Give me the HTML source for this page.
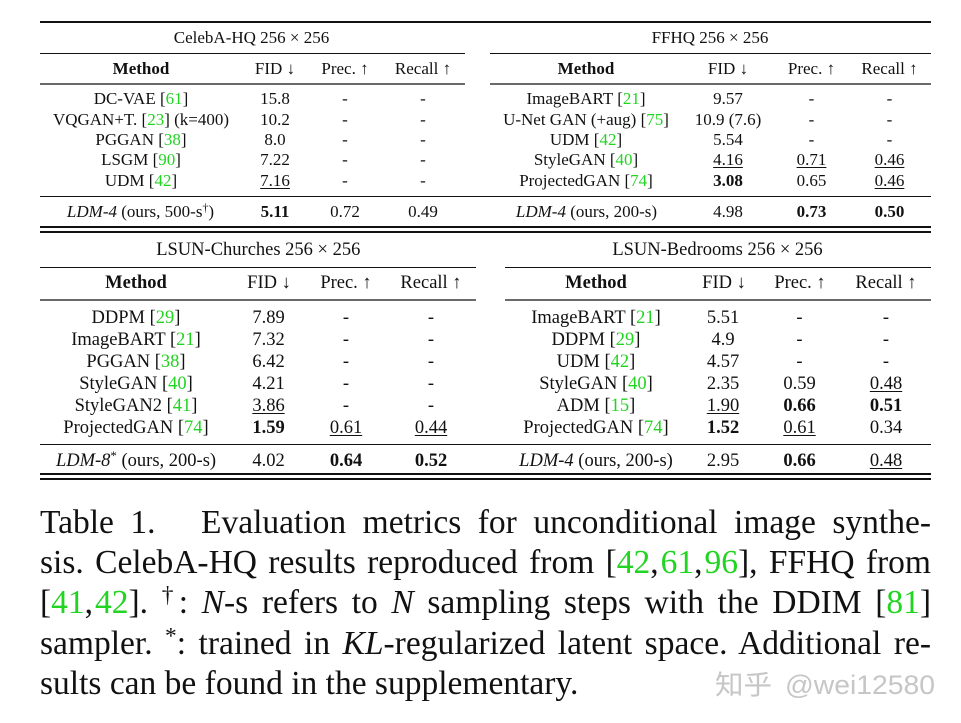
<!DOCTYPE html>
<html>
<head>
<meta charset="utf-8">
<style>
html,body{margin:0;padding:0;background:#fff;}
#c{position:relative;width:961px;height:723px;overflow:hidden;font-family:"Liberation Serif","Times New Roman",serif;color:#111;background:#fff;}
.r{position:absolute;background:#111;}
.row{position:absolute;left:0;width:961px;}
.row>span{position:absolute;top:0;white-space:nowrap;transform:translateX(-50%);}
.s{font-size:17px;line-height:20px;height:20px;}
.l{font-size:18.5px;line-height:22px;height:22px;}
.g{color:#22d422;}
.gm{margin-left:2px;}
u{text-decoration:underline;text-decoration-thickness:1px;text-underline-offset:2px;}
sup{font-size:0.7em;line-height:0;vertical-align:0.45em;}
.cap{position:absolute;left:40px;top:502.9px;width:891px;font-size:33.5px;line-height:40.3px;}
.cap div{height:40.3px;white-space:nowrap;}
.cap .j{text-align:justify;text-align-last:justify;white-space:normal;}
</style>
</head>
<body>
<div id="c">
<!-- rules -->
<div class="r" style="left:40px;top:21px;width:891px;height:2px;"></div>
<div class="r" style="left:40px;top:53px;width:425px;height:1px;"></div>
<div class="r" style="left:490px;top:53px;width:441px;height:1px;"></div>
<div class="r" style="left:40px;top:83px;width:425px;height:2px;background:#6a6a6a;"></div>
<div class="r" style="left:490px;top:83px;width:441px;height:2px;background:#6a6a6a;"></div>
<div class="r" style="left:40px;top:196px;width:891px;height:1px;"></div>
<div class="r" style="left:40px;top:226px;width:891px;height:2px;"></div>
<div class="r" style="left:40px;top:231px;width:891px;height:2px;"></div>
<div class="r" style="left:40px;top:267px;width:436px;height:1px;"></div>
<div class="r" style="left:505px;top:267px;width:426px;height:1px;"></div>
<div class="r" style="left:40px;top:299px;width:436px;height:2px;background:#6a6a6a;"></div>
<div class="r" style="left:505px;top:299px;width:426px;height:2px;background:#6a6a6a;"></div>
<div class="r" style="left:40px;top:444px;width:891px;height:1px;"></div>
<div class="r" style="left:40px;top:473px;width:891px;height:2px;"></div>
<div class="r" style="left:40px;top:478px;width:891px;height:2px;"></div>

<!-- top tables -->
<div class="row s" style="top:28px">
<span style="left:251.5px">CelebA-HQ 256 × 256</span>
<span style="left:710px">FFHQ 256 × 256</span>
</div>
<div class="row s" style="top:59px">
<span style="left:141px"><b>Method</b></span>
<span style="left:275px">FID ↓</span>
<span style="left:345px">Prec. ↑</span>
<span style="left:423px">Recall ↑</span>
<span style="left:586px"><b>Method</b></span>
<span style="left:728px">FID ↓</span>
<span style="left:811.5px">Prec. ↑</span>
<span style="left:889.5px">Recall ↑</span>
</div>
<div class="row s" style="top:89.2px">
<span style="left:141px">DC-VAE [<span class="g">61</span>]</span>
<span style="left:275px">15.8</span>
<span style="left:345px">-</span>
<span style="left:423px">-</span>
<span style="left:586px">ImageBART [<span class="g">21</span>]</span>
<span style="left:728px">9.57</span>
<span style="left:811.5px">-</span>
<span style="left:889.5px">-</span>
</div>
<div class="row s" style="top:109.55px">
<span style="left:141px">VQGAN+T. [<span class="g">23</span>] (k=400)</span>
<span style="left:275px">10.2</span>
<span style="left:345px">-</span>
<span style="left:423px">-</span>
<span style="left:586px">U-Net GAN (+aug) [<span class="g">75</span>]</span>
<span style="left:728px">10.9 (7.6)</span>
<span style="left:811.5px">-</span>
<span style="left:889.5px">-</span>
</div>
<div class="row s" style="top:129.9px">
<span style="left:141px">PGGAN [<span class="g">38</span>]</span>
<span style="left:275px">8.0</span>
<span style="left:345px">-</span>
<span style="left:423px">-</span>
<span style="left:586px">UDM [<span class="g">42</span>]</span>
<span style="left:728px">5.54</span>
<span style="left:811.5px">-</span>
<span style="left:889.5px">-</span>
</div>
<div class="row s" style="top:150.25px">
<span style="left:141px">LSGM [<span class="g">90</span>]</span>
<span style="left:275px">7.22</span>
<span style="left:345px">-</span>
<span style="left:423px">-</span>
<span style="left:586px">StyleGAN [<span class="g">40</span>]</span>
<span style="left:728px"><u>4.16</u></span>
<span style="left:811.5px"><u>0.71</u></span>
<span style="left:889.5px"><u>0.46</u></span>
</div>
<div class="row s" style="top:170.6px">
<span style="left:141px">UDM [<span class="g">42</span>]</span>
<span style="left:275px"><u>7.16</u></span>
<span style="left:345px">-</span>
<span style="left:423px">-</span>
<span style="left:586px">ProjectedGAN [<span class="g">74</span>]</span>
<span style="left:728px"><b>3.08</b></span>
<span style="left:811.5px">0.65</span>
<span style="left:889.5px"><u>0.46</u></span>
</div>
<div class="row s" style="top:201.5px">
<span style="left:140.5px"><i>LDM-4</i> (ours, 500-s<sup>†</sup>)</span>
<span style="left:275px"><b>5.11</b></span>
<span style="left:345px">0.72</span>
<span style="left:423px">0.49</span>
<span style="left:586.5px"><i>LDM-4</i> (ours, 200-s)</span>
<span style="left:728px">4.98</span>
<span style="left:811.5px"><b>0.73</b></span>
<span style="left:889.5px"><b>0.50</b></span>
</div>

<!-- bottom tables -->
<div class="row l" style="top:239px">
<span style="left:258.3px">LSUN-Churches 256 × 256</span>
<span style="left:717.5px">LSUN-Bedrooms 256 × 256</span>
</div>
<div class="row l" style="top:272px">
<span style="left:136px"><b>Method</b></span>
<span style="left:269px">FID ↓</span>
<span style="left:346px">Prec. ↑</span>
<span style="left:431px">Recall ↑</span>
<span style="left:596px"><b>Method</b></span>
<span style="left:724px">FID ↓</span>
<span style="left:800px">Prec. ↑</span>
<span style="left:886px">Recall ↑</span>
</div>
<div class="row l" style="top:306.8px">
<span style="left:136px">DDPM [<span class="g">29</span>]</span>
<span style="left:268.5px">7.89</span>
<span style="left:346px">-</span>
<span style="left:431px">-</span>
<span style="left:596px">ImageBART [<span class="g">21</span>]</span>
<span style="left:723px">5.51</span>
<span style="left:799.5px">-</span>
<span style="left:886px">-</span>
</div>
<div class="row l" style="top:328.9px">
<span style="left:136px">ImageBART [<span class="g">21</span>]</span>
<span style="left:268.5px">7.32</span>
<span style="left:346px">-</span>
<span style="left:431px">-</span>
<span style="left:596px">DDPM [<span class="g">29</span>]</span>
<span style="left:723px">4.9</span>
<span style="left:799.5px">-</span>
<span style="left:886px">-</span>
</div>
<div class="row l" style="top:351px">
<span style="left:136px">PGGAN [<span class="g">38</span>]</span>
<span style="left:268.5px">6.42</span>
<span style="left:346px">-</span>
<span style="left:431px">-</span>
<span style="left:596px">UDM [<span class="g">42</span>]</span>
<span style="left:723px">4.57</span>
<span style="left:799.5px">-</span>
<span style="left:886px">-</span>
</div>
<div class="row l" style="top:373.1px">
<span style="left:136px">StyleGAN [<span class="g">40</span>]</span>
<span style="left:268.5px">4.21</span>
<span style="left:346px">-</span>
<span style="left:431px">-</span>
<span style="left:596px">StyleGAN [<span class="g">40</span>]</span>
<span style="left:723px">2.35</span>
<span style="left:799.5px">0.59</span>
<span style="left:886px"><u>0.48</u></span>
</div>
<div class="row l" style="top:395.2px">
<span style="left:136px">StyleGAN2 [<span class="g">41</span>]</span>
<span style="left:268.5px"><u>3.86</u></span>
<span style="left:346px">-</span>
<span style="left:431px">-</span>
<span style="left:596px">ADM [<span class="g">15</span>]</span>
<span style="left:723px"><u>1.90</u></span>
<span style="left:799.5px"><b>0.66</b></span>
<span style="left:886px"><b>0.51</b></span>
</div>
<div class="row l" style="top:417.3px">
<span style="left:136px">ProjectedGAN [<span class="g">74</span>]</span>
<span style="left:268.5px"><b>1.59</b></span>
<span style="left:346px"><u>0.61</u></span>
<span style="left:431px"><u>0.44</u></span>
<span style="left:596px">ProjectedGAN [<span class="g">74</span>]</span>
<span style="left:723px"><b>1.52</b></span>
<span style="left:799.5px"><u>0.61</u></span>
<span style="left:886px">0.34</span>
</div>
<div class="row l" style="top:450.3px">
<span style="left:136px"><i>LDM-8</i><sup>*</sup> (ours, 200-s)</span>
<span style="left:268.5px">4.02</span>
<span style="left:346px"><b>0.64</b></span>
<span style="left:431px"><b>0.52</b></span>
<span style="left:596px"><i>LDM-4</i> (ours, 200-s)</span>
<span style="left:723px">2.95</span>
<span style="left:799.5px"><b>0.66</b></span>
<span style="left:886px"><u>0.48</u></span>
</div>

<!-- caption -->
<div class="cap">
<div class="j"><span style="margin-right:29px">Table 1.</span> Evaluation metrics for unconditional image synthe-</div>
<div class="j">sis. CelebA-HQ results reproduced from [<span class="g">42</span>,<span class="g gm">61</span>,<span class="g gm">96</span>], FFHQ from</div>
<div class="j">[<span class="g">41</span>,<span class="g gm">42</span>]. <sup>†</sup>: <i>N</i>-s refers to <i>N</i> sampling steps with the DDIM [<span class="g">81</span>]</div>
<div class="j">sampler. <sup>*</sup>: trained in <i>KL</i>-regularized latent space. Additional re-</div>
<div>sults can be found in the supplementary.</div>
</div>

<!-- watermark -->
<svg style="position:absolute;left:0;top:0" width="961" height="723" xmlns="http://www.w3.org/2000/svg">
<text x="715" y="694.5" font-family="'Noto Sans CJK SC','WenQuanYi Zen Hei',sans-serif" font-size="27" fill="#c6c6c6" textLength="57" lengthAdjust="spacingAndGlyphs">知乎</text>
<text x="785" y="694" font-family="'Liberation Sans','DejaVu Sans',sans-serif" font-size="27" fill="#c6c6c6" textLength="150" lengthAdjust="spacingAndGlyphs">@wei12580</text>
</svg>
</div>
</body>
</html>
